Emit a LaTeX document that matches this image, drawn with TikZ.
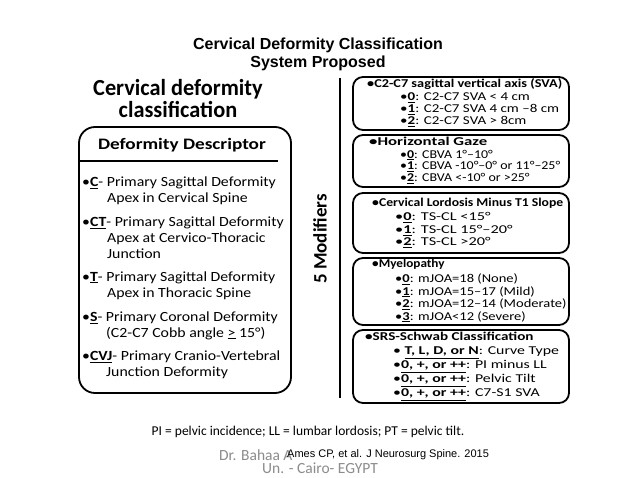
\documentclass[tikz,border=0pt]{standalone}
\usepackage{graphicx}
\usepackage{fontspec}
\setmainfont{Carlito}
\newfontfamily\arialfont{Liberation Sans}
\usetikzlibrary{positioning}
\newcommand\keyul[1]{\underline{\textbf{#1}}}
\newcommand\xs[2]{\scalebox{#1}[1]{#2}}
\tikzset{
  descbox/.style={draw=black, line width=1.8pt, rounded corners=16pt},
  modbox/.style ={draw=black, line width=1.8pt, rounded corners=10pt, inner sep=0pt},
  desctxt/.style={anchor=west, inner sep=0pt, text height=9.5pt, text depth=3pt,
                  font=\fontsize{14}{16}\selectfont},
  modhead/.style={anchor=west, inner sep=0pt, text height=8.5pt, text depth=2.5pt,
                  font=\fontsize{12}{12}\selectfont\bfseries},
  modtxt/.style ={modhead, font=\fontsize{12}{12}\selectfont},
  graytxt/.style={anchor=west, inner sep=0pt, text=black!45, font=\fontsize{15.5}{16}\selectfont},
}
\begin{document}
\begin{tikzpicture}[x=1pt, y=-1pt]
  \fill[white] (0,0) rectangle (638,478);
  \useasboundingbox (0,0) rectangle (638,478);
  % titles
  \node[font=\arialfont\fontsize{16}{18}\selectfont\bfseries, align=center] (title) at (318,54)
    {Cervical Deformity Classification\\System Proposed};
  \node[font=\fontsize{23}{22}\selectfont\bfseries, align=center] (cdc) at (178,99)
    {\xs{0.97}{Cervical deformity}\\\xs{0.97}{classification}};
  % descriptor box
  \node[descbox, minimum width=212pt, minimum height=266pt] (desc) at (185,260) {};
  \node[font=\fontsize{16}{16}\selectfont\bfseries] (dd) at (182,145) {\xs{1.2}{Deformity Descriptor}};
  \coordinate (rulel) at (79,161);
  \coordinate (ruler) at (278,161);
  \draw[line width=1.8pt] (rulel) -- (ruler);
  \foreach \yy/\xx/\txt [count=\i] in {
      183/82/{\textbullet\keyul{C}- Primary Sagittal Deformity},
      199/107/{Apex in Cervical Spine},
      223/82/{\textbullet\keyul{CT}- Primary Sagittal Deformity},
      239/107/{Apex at Cervico-Thoracic},
      255/107/{Junction},
      278/82/{\textbullet\keyul{T}- Primary Sagittal Deformity},
      294/107/{Apex in Thoracic Spine},
      318/82/{\textbullet\keyul{S}- Primary Coronal Deformity},
      334/106/{(C2-C7 Cobb angle \underline{>} 15°)},
      357/82/{\textbullet\keyul{CVJ}- Primary Cranio-Vertebral},
      373/106/{Junction Deformity}}
    \node[desctxt] (desc-\i) at (\xx,\yy) {\xs{1.13}{\txt}};
  % modifiers
  \coordinate (vtop) at (340,78);
  \coordinate (vbot) at (340,398);
  \draw[line width=1.5pt] (vtop) -- (vbot);
  \node[rotate=90, font=\fontsize{19}{20}\selectfont\bfseries] (mods) at (320,239) {5 Modifiers};

  \node[modbox, minimum width=216pt, minimum height=53pt] (sva) at (461,103.5) {};
  \node[modhead] (sva-h) at (367,85) {\xs{1.19}{\textbullet C2-C7 sagittal vertical axis (SVA)}};
  \foreach \txt [count=\i] in {{\textbullet\keyul{0}: C2-C7 SVA < 4 cm},
                               {\textbullet\keyul{1}: C2-C7 SVA 4 cm –8 cm},
                               {\textbullet\keyul{2}: C2-C7 SVA > 8cm}}
    \node[modtxt] (sva-\i) at (400,{86+12*\i}) {\xs{1.25}{\txt}};

  \node[modbox, minimum width=216pt, minimum height=52pt] (gaze) at (461,161) {};
  \node[modhead] (gaze-h) at (369,143) {\xs{1.4}{\textbullet Horizontal Gaze}};
  \foreach \txt [count=\i] in {{\textbullet\keyul{0}: CBVA 1°–10°},
                               {\textbullet\keyul{1}: CBVA -10°–0° or 11°–25°},
                               {\textbullet\keyul{2}: CBVA <-10° or >25°}}
    \node[modtxt] (gaze-\i) at (400,{143.5+11.7*\i}) {\xs{1.16}{\txt}};

  \node[modbox, minimum width=216pt, minimum height=60pt] (tscl) at (461,223) {};
  \node[modhead] (tscl-h) at (372,204) {\xs{1.14}{\textbullet Cervical Lordosis Minus T1 Slope}};
  \foreach \txt [count=\i] in {{\textbullet\keyul{0}: TS-CL <15°},
                               {\textbullet\keyul{1}: TS-CL 15°–20°},
                               {\textbullet\keyul{2}: TS-CL >20°}}
    \node[modtxt] (tscl-\i) at (395,{205.5+12.5*\i}) {\xs{1.36}{\txt}};

  \node[modbox, minimum width=216pt, minimum height=67pt] (mjoa) at (461,291.5) {};
  \node[modhead] (mjoa-h) at (372,265) {\xs{1.1}{\textbullet Myelopathy}};
  \foreach \txt [count=\i] in {{\textbullet\keyul{0}: mJOA=18 (None)},
                               {\textbullet\keyul{1}: mJOA=15–17 (Mild)},
                               {\textbullet\keyul{2}: mJOA=12–14 (Moderate)},
                               {\textbullet\keyul{3}: mJOA<12 (Severe)}}
    \node[modtxt] (mjoa-\i) at (395,{267.5+12.4*\i}) {\xs{1.21}{\txt}};

  \node[modbox, minimum width=216pt, minimum height=73pt] (srs) at (461,366.5) {};
  \node[modhead] (srs-h) at (365,338) {\xs{1.26}{\textbullet SRS-Schwab Classification}};
  \foreach \txt [count=\i] in {{\textbullet\ \keyul{T, L, D, or N}: Curve Type},
                               {\textbullet\keyul{0, +,\ or ++}: PI minus LL},
                               {\textbullet\keyul{0, +, or ++}: Pelvic Tilt},
                               {\textbullet\keyul{0, +, or ++}: C7-S1 SVA}}
    \node[modtxt] (srs-\i) at (393,{338+14*\i}) {\xs{1.32}{\txt}};

  % footer
  \node[font=\fontsize{13.5}{14}\selectfont] (abbr) at (308,432)
    {PI = pelvic incidence; LL = lumbar lordosis; PT = pelvic tilt.};
  \node[graytxt] (auth) at (219,455) {Dr. Bahaa A};
  \node[graytxt] (univ) at (262,468) {Un. - Cairo- EGYPT};
  \node[anchor=west, inner sep=0pt, font=\arialfont\fontsize{11}{13}\selectfont] (ref) at (287,455)
    {Ames CP, et al. J Neurosurg Spine. 2015};
\end{tikzpicture}
\end{document}
